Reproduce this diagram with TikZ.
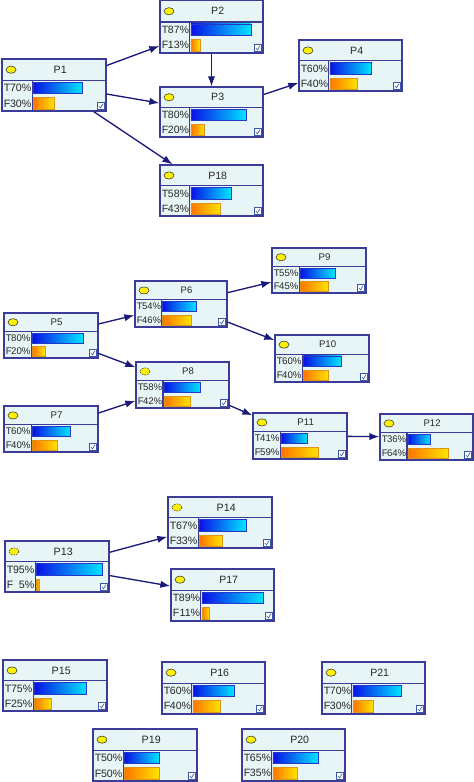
\documentclass[tikz,border=0pt]{standalone}
\usepackage{fontspec}
\setmainfont{Liberation Sans}
\usetikzlibrary{positioning, calc, arrows.meta, fit, shapes}
\usepackage{xcolor}
\definecolor{boxblue}{HTML}{3C3C98}
\definecolor{boxfill}{HTML}{E8F5F7}
\definecolor{linknavy}{HTML}{1A1A7A}
\definecolor{tdark}{HTML}{0A10E6}
\definecolor{tlight}{HTML}{00E6FF}
\definecolor{tedge}{HTML}{2238C8}
\definecolor{fdark}{HTML}{FF7400}
\definecolor{flight}{HTML}{FFE600}
\definecolor{fedge}{HTML}{E09418}
\definecolor{chkblue}{HTML}{3A5AA8}

\tikzset{
    netbox/.style={draw=boxblue, fill=boxfill, line width=1pt, inner sep=0pt},
    boxline/.style={draw=boxblue, line width=0.8pt},
    icon/.style={draw=black!75, fill=yellow, line width=0.45pt},
    dashicon/.style={dash pattern=on 1.2pt off 0.9pt},
    tbar/.style={draw=tedge, line width=0.5pt, left color=tdark, right color=tlight},
    fbar/.style={draw=fedge, line width=0.5pt, left color=fdark, right color=flight},
    chk/.style={draw=chkblue, fill=white, line width=0.5pt},
    lbl/.style={inner sep=0pt, text=black!85},
    link/.style={draw=linknavy, line width=1pt, -{Latex[length=7.5pt, width=5.5pt]}}
}

% #1 name, #2 left, #3 top, #4 width, #5 height, #6 T, #7 F, #8 icon line
\newcommand{\bnode}[8]{%
    \pgfmathsetmacro{\bxR}{#2+#4}%
    \pgfmathsetmacro{\bxB}{#3+#5}%
    \pgfmathsetmacro{\bxT}{#3+0.41*#5}%
    \pgfmathsetmacro{\bxD}{#2+0.29*#4}%
    \pgfmathsetmacro{\bxH}{0.59*#5}%
    \pgfmathsetmacro{\bxW}{0.95*0.71*#4/100}%
    \pgfmathsetmacro{\bxF}{0.077*#4}%
    \node[netbox, fit={(#2,#3) (\bxR,\bxB)}] (#1) {};
    \draw[boxline] (#2,\bxT) -- (\bxR,\bxT) (\bxD,\bxT) -- (\bxD,\bxB);
    \draw[icon, #8] ({#2+9},{(#3+\bxT)/2}) ellipse (5 and 3.6);
    \node[lbl, font=\fontsize{\bxF}{\bxF}\selectfont] at ({#2+0.56*#4},{(#3+\bxT)/2}) {#1};
    % states
    \node[lbl, anchor=west, font=\fontsize{\bxF}{\bxF}\selectfont] at (#2+1.5,\bxT+0.25*\bxH) {T};
    \node[lbl, anchor=east, font=\fontsize{\bxF}{\bxF}\selectfont] at (\bxD-0.5,\bxT+0.25*\bxH) {#6\%};
    \node[lbl, anchor=west, font=\fontsize{\bxF}{\bxF}\selectfont] at (#2+1.5,\bxT+0.75*\bxH) {F};
    \node[lbl, anchor=east, font=\fontsize{\bxF}{\bxF}\selectfont] at (\bxD-0.5,\bxT+0.75*\bxH) {#7\%};
    \draw[tbar] (\bxD+1,\bxT+0.06*\bxH) rectangle ({\bxD+1+#6*\bxW},\bxT+0.43*\bxH);
    \draw[fbar] (\bxD+1,\bxT+0.57*\bxH) rectangle ({\bxD+1+#7*\bxW},\bxT+0.94*\bxH);
    % check box
    \draw[chk] (\bxR-9,\bxB-9) rectangle (\bxR-1.5,\bxB-1.5);
    \draw[chkblue, line width=0.5pt] (\bxR-7.2,\bxB-5) -- (\bxR-5.5,\bxB-3.2) -- (\bxR-3,\bxB-7.2);
}

\begin{document}
\begin{tikzpicture}[x=0.75pt, y=-0.75pt]
    \useasboundingbox (0,0) rectangle (474,782);

    % First network
    \bnode{P1}{2}{59}{104}{52}{70}{30}{solid}
    \bnode{P2}{160}{0.5}{103}{52.5}{87}{13}{solid}
    \bnode{P3}{160}{87}{103}{50}{80}{20}{solid}
    \bnode{P4}{299}{40}{103}{51}{60}{40}{solid}
    \bnode{P18}{160}{165}{103}{51}{58}{43}{solid}

    % Second network
    \bnode{P5}{4}{313}{94}{45}{80}{20}{solid}
    \bnode{P6}{135}{281}{92}{46}{54}{46}{solid}
    \bnode{P9}{272}{248}{94}{45}{55}{45}{solid}
    \bnode{P10}{275}{335}{94}{47}{60}{40}{solid}
    \bnode{P8}{136}{362}{93}{46}{58}{42}{dashicon}
    \bnode{P7}{4}{406}{94}{46}{60}{40}{solid}
    \bnode{P11}{253}{413}{94}{46}{41}{59}{solid}
    \bnode{P12}{380}{414}{93}{46}{36}{64}{solid}

    % Third network
    \bnode{P13}{5}{541}{104}{51}{95}{5}{dashicon}
    \bnode{P14}{168}{497}{104}{51}{67}{33}{dashicon}
    \bnode{P17}{171}{569}{103}{52}{89}{11}{solid}

    % Single nodes
    \bnode{P15}{3}{660}{104}{51}{75}{25}{solid}
    \bnode{P16}{162}{662}{103}{52}{60}{40}{solid}
    \bnode{P21}{322}{662}{103}{52}{70}{30}{solid}
    \bnode{P19}{93}{729}{104}{52}{50}{50}{solid}
    \bnode{P20}{242}{729}{103}{52}{65}{35}{solid}

    % Links
    \draw[link] (P1) -- (P2);
    \draw[link] (P1) -- (P3);
    \draw[link] (P1) -- (P18);
    \draw[link] (P2) -- (P3);
    \draw[link] (P3) -- (P4);
    \draw[link] (P5) -- (P6);
    \draw[link] (P5) -- (P8);
    \draw[link] (P7) -- (P8);
    \draw[link] (P6) -- (P9);
    \draw[link] (P6) -- (P10);
    \draw[link] (P8) -- (P11);
    \draw[link] (P11) -- (P12);
    \draw[link] (P13) -- (P14);
    \draw[link] (P13) -- (P17);
\end{tikzpicture}
\end{document}
